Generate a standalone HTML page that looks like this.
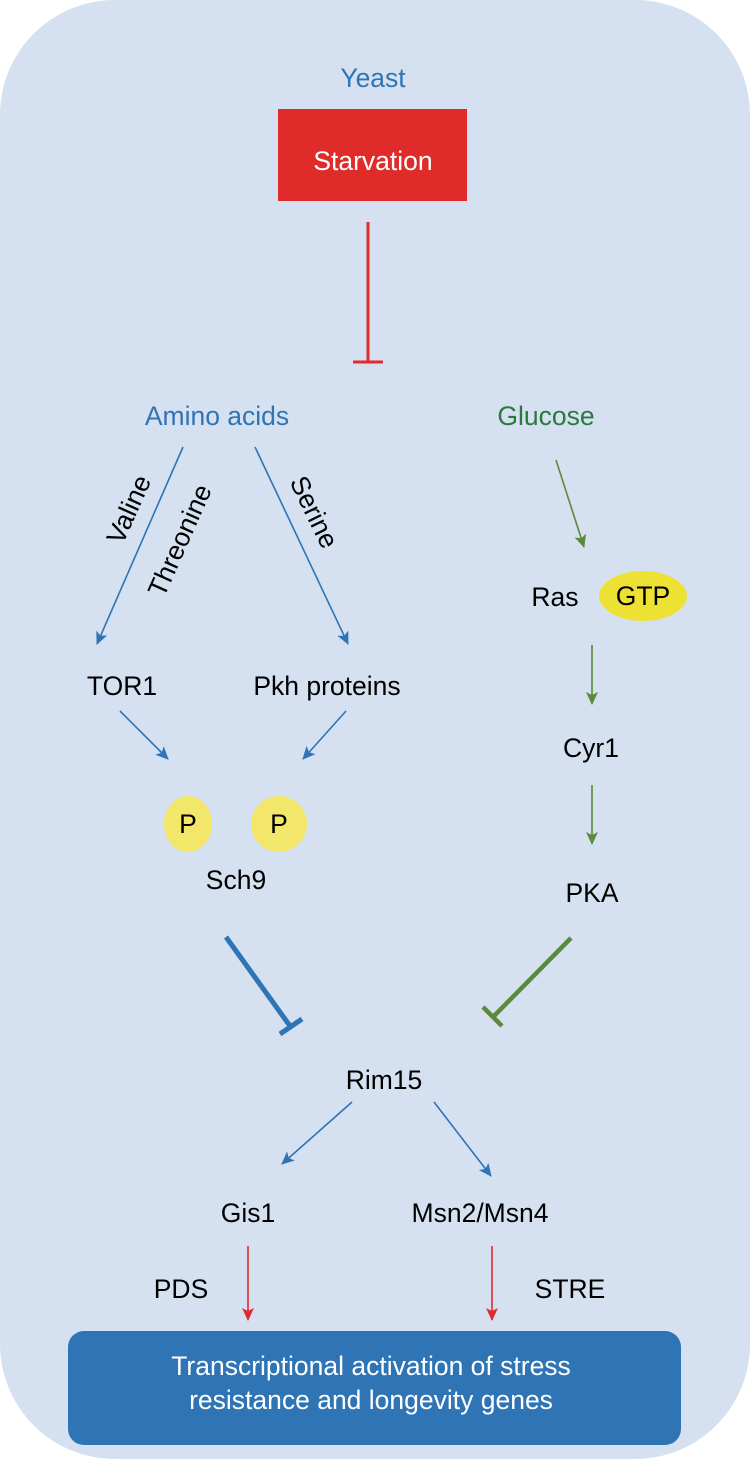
<!DOCTYPE html>
<html><head><meta charset="utf-8"><style>
html,body{margin:0;padding:0;background:#fff;}
svg{display:block;}
text{font-family:"Liberation Sans",Arial,sans-serif;font-size:26.5px;}
</style></head><body>
<svg width="750" height="1459" viewBox="0 0 750 1459" xmlns="http://www.w3.org/2000/svg">
<defs>
<marker id="ab" markerWidth="14" markerHeight="14" refX="12" refY="6" orient="auto" markerUnits="userSpaceOnUse"><path d="M0,0 L13,6 L0,12 L3,6 Z" fill="#2f74b5"/></marker>
<marker id="ag" markerWidth="14" markerHeight="14" refX="12" refY="6" orient="auto" markerUnits="userSpaceOnUse"><path d="M0,0 L13,6 L0,12 L3,6 Z" fill="#5a8a3a"/></marker>
<marker id="ar" markerWidth="14" markerHeight="14" refX="12" refY="6" orient="auto" markerUnits="userSpaceOnUse"><path d="M0,0 L13,6 L0,12 L3,6 Z" fill="#e02b2b"/></marker>
</defs>
<rect x="0" y="0" width="750" height="1459" rx="115" ry="115" fill="#d5e1f0"/>
<text x="373" y="87" text-anchor="middle" fill="#2f74b5">Yeast</text>
<rect x="278" y="109" width="189" height="92" fill="#e02b2b"/>
<text x="373" y="170" text-anchor="middle" fill="#fff">Starvation</text>
<line x1="368" y1="222" x2="368" y2="362" stroke="#e02b2b" stroke-width="3"/>
<line x1="353" y1="362" x2="383" y2="362" stroke="#e02b2b" stroke-width="3"/>
<text x="217" y="425" text-anchor="middle" fill="#2f74b5">Amino acids</text>
<text x="546" y="425" text-anchor="middle" fill="#2a7a3e">Glucose</text>
<line x1="183" y1="447" x2="97" y2="644" stroke="#2f74b5" stroke-width="1.6" marker-end="url(#ab)"/>
<line x1="255" y1="447" x2="348" y2="644" stroke="#2f74b5" stroke-width="1.6" marker-end="url(#ab)"/>
<text transform="translate(137,513) rotate(-66)" text-anchor="middle" fill="#000">Valine</text>
<text transform="translate(188,544) rotate(-66)" text-anchor="middle" fill="#000">Threonine</text>
<text transform="translate(306,516) rotate(64)" text-anchor="middle" fill="#000">Serine</text>
<text x="122" y="695" text-anchor="middle">TOR1</text>
<text x="327" y="695" text-anchor="middle">Pkh proteins</text>
<line x1="120" y1="711" x2="168" y2="759" stroke="#2f74b5" stroke-width="1.6" marker-end="url(#ab)"/>
<line x1="346" y1="711" x2="303" y2="759" stroke="#2f74b5" stroke-width="1.6" marker-end="url(#ab)"/>
<ellipse cx="188" cy="824" rx="24" ry="28" fill="#f2e76a"/>
<ellipse cx="279" cy="824" rx="28" ry="28" fill="#f2e76a"/>
<text x="188" y="833" text-anchor="middle">P</text>
<text x="279" y="833" text-anchor="middle">P</text>
<text x="236" y="889" text-anchor="middle">Sch9</text>
<line x1="556" y1="460" x2="584" y2="547" stroke="#5a8a3a" stroke-width="1.6" marker-end="url(#ag)"/>
<text x="555" y="606" text-anchor="middle">Ras</text>
<ellipse cx="643" cy="596" rx="44" ry="25" fill="#ede233"/>
<text x="643" y="605" text-anchor="middle">GTP</text>
<line x1="592" y1="645" x2="592" y2="704" stroke="#5a8a3a" stroke-width="1.6" marker-end="url(#ag)"/>
<text x="591" y="757" text-anchor="middle">Cyr1</text>
<line x1="592" y1="785" x2="592" y2="844" stroke="#5a8a3a" stroke-width="1.6" marker-end="url(#ag)"/>
<text x="592" y="902" text-anchor="middle">PKA</text>
<line x1="226" y1="937" x2="290" y2="1026" stroke="#2f74b5" stroke-width="5"/>
<line x1="280" y1="1034" x2="302" y2="1019" stroke="#2f74b5" stroke-width="5"/>
<line x1="571" y1="938" x2="494" y2="1016" stroke="#5a8a3a" stroke-width="4.5"/>
<line x1="483" y1="1007" x2="502" y2="1026" stroke="#5a8a3a" stroke-width="4.5"/>
<text x="384" y="1089" text-anchor="middle">Rim15</text>
<line x1="352" y1="1102" x2="282" y2="1164" stroke="#2f74b5" stroke-width="1.6" marker-end="url(#ab)"/>
<line x1="434" y1="1102" x2="491" y2="1176" stroke="#2f74b5" stroke-width="1.6" marker-end="url(#ab)"/>
<text x="248" y="1222" text-anchor="middle">Gis1</text>
<text x="480" y="1222" text-anchor="middle">Msn2/Msn4</text>
<line x1="248" y1="1246" x2="248" y2="1320" stroke="#e02b2b" stroke-width="1.6" marker-end="url(#ar)"/>
<line x1="492" y1="1246" x2="492" y2="1320" stroke="#e02b2b" stroke-width="1.6" marker-end="url(#ar)"/>
<text x="181" y="1298" text-anchor="middle">PDS</text>
<text x="570" y="1298" text-anchor="middle">STRE</text>
<rect x="68" y="1331" width="613" height="114" rx="16" ry="16" fill="#2f74b5"/>
<text x="371" y="1375" text-anchor="middle" fill="#fff">Transcriptional activation of stress</text>
<text x="371" y="1409" text-anchor="middle" fill="#fff">resistance and longevity genes</text>
</svg>
</body></html>
